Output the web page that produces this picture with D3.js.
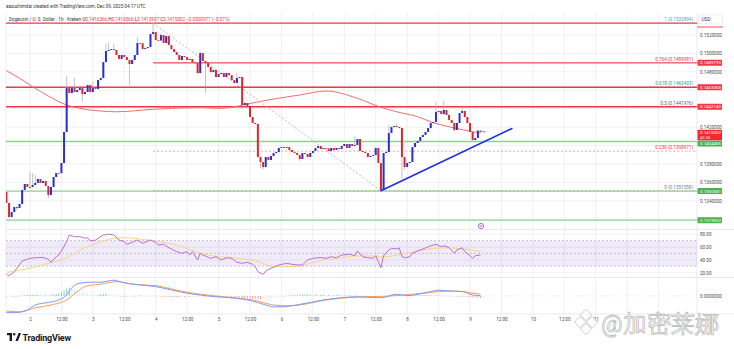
<!DOCTYPE html>
<html><head><meta charset="utf-8">
<script src="https://cdn.jsdelivr.net/npm/d3@7/dist/d3.min.js"></script>
<style>
html,body{margin:0;padding:0;background:#fff;overflow:hidden}
svg{display:block}
text{font-family:Roboto,"Liberation Sans",Arial,sans-serif}
</style></head><body>
<svg id="chart" width="734" height="349"></svg>
<script>
// ================= DATA =================
const firstOpen = 0.13496;
const closes = [
0.13377,0.13225,0.13279,0.13333,0.13322,0.13366,0.13518,0.13583,0.13550,0.13550,
0.13572,0.13594,0.13637,0.13594,0.13615,0.13561,0.13463,0.13550,0.13659,0.13702,
0.13700,0.13811,0.14147,0.14624,0.14570,0.14624,0.14581,0.14603,0.14624,0.14559,
0.14581,0.14657,0.14581,0.14624,0.14614,0.14711,0.14733,0.14906,0.15026,0.15037,
0.15047,0.15037,0.14983,0.14939,0.14983,0.14961,0.14928,0.14885,0.14928,0.14983,
0.15113,0.15110,0.15047,0.15058,0.15069,0.15210,0.15232,0.15145,0.15140,0.15199,
0.15113,0.15189,0.15091,0.15047,0.15015,0.14983,0.14928,0.14972,0.14961,0.14928,
0.14939,0.14906,0.14896,0.14787,0.15004,0.14917,0.14896,0.14852,0.14798,0.14820,
0.14744,0.14776,0.14787,0.14744,0.14787,0.14765,0.14711,0.14679,0.14733,0.14744,
0.14440,0.14462,0.14429,0.14310,0.14245,0.14234,0.13876,0.13822,0.13767,0.13876,
0.13843,0.13887,0.13919,0.13930,0.13974,0.13984,0.13974,0.13984,0.13952,0.13930,
0.13919,0.13897,0.13854,0.13919,0.13908,0.13876,0.13919,0.13941,0.13974,0.13995,
0.13963,0.13974,0.13970,0.13941,0.13974,0.13952,0.13974,0.13963,0.13995,0.14017,
0.13974,0.14017,0.13995,0.14006,0.14071,0.13941,0.13930,0.13919,0.13876,0.13887,
0.13897,0.13974,0.13811,0.13520,0.13919,0.13930,0.14136,0.14201,0.14212,0.14201,
0.14190,0.13876,0.13767,0.13811,0.13822,0.13984,0.14028,0.14050,0.14093,0.14115,
0.14147,0.14190,0.14245,0.14256,0.14364,0.14375,0.14342,0.14386,0.14332,0.14277,
0.14245,0.14169,0.14245,0.14353,0.14375,0.14310,0.14245,0.14147,0.14060,0.14082,
0.1416366,0.1415002
];
const wickHigh = [[9,0.13716],[10,0.13700],[11,0.13680],[23,0.14755],[26,0.14733],[33,0.14690],[38,0.15100],[39,0.15120],[41,0.15100],[50,0.15180],[56,0.1532894],[59,0.15220],[74,0.15020],[88,0.14790],[133,0.14100],[146,0.14223],[149,0.14240],[164,0.14476],[167,0.14487],[174,0.14410],[181,0.1416366]];
const wickLow = [[1,0.13214],[4,0.13300],[16,0.13430],[29,0.14476],[47,0.14657],[73,0.14770],[76,0.14573],[90,0.14400],[97,0.13756],[98,0.13740],[112,0.13830],[143,0.1351058],[151,0.13637],[152,0.13740],[171,0.14150],[179,0.14050],[181,0.1413937]];

// moving average on price: [candle index, value]
const maPts = [[0,0.14812],[5,0.14730],[10,0.14639],[16,0.14538],[23,0.14440],[28,0.14404],[36,0.14375],[42,0.14367],[48,0.14375],[56,0.14394],[63,0.14404],[74,0.14411],[81,0.14404],[86,0.14415],[92,0.14451],[102,0.14505],[112,0.14549],[122,0.14592],[134,0.14513],[143,0.14415],[149,0.14367],[157,0.14313],[163,0.14248],[170,0.14198],[178,0.14150],[181,0.14136]];

const resistanceLevels = [0.1489793, 0.1463368, 0.1442143];
const supportLevels = [0.1404456, 0.1350581, 0.1319053];
const fibRatios = [1, 0.764, 0.618, 0.5, 0.236, 0];
const fibPrices = [0.1532894, 0.1489981, 0.1463433, 0.1441976, 0.1393971, 0.1351058];
const fibAnchors = [56, 143];           // candle indices of swing high / swing low
const trendLine = [[143, 0.1351058], [193, 0.14185]];
const lastPrice = 0.1415002;
const countdown = "42:26";

const priceTicks = [0.152,0.150,0.148,0.146,0.144,0.142,0.140,0.138,0.136,0.134,0.132];

// RSI [index, value]
const rsiPts = [[0,17.3],[1,15.2],[3,21.4],[6,38.1],[9,42.3],[11,43.3],[14,43.6],[16,40.8],[17,36.1],[19,44.8],[20,47.5],[21,53.8],[23,68.3],[24,78.8],[26,76.1],[28,76.1],[30,73.6],[31,74.5],[32,69.4],[34,70.9],[37,78.8],[39,79.8],[41,78.8],[43,70.9],[45,68.3],[46,64.2],[48,67.3],[50,70.9],[52,65.8],[55,70.9],[57,67.3],[58,63.1],[60,64.2],[62,58.9],[63,56.9],[65,52.7],[67,50.2],[69,52.7],[70,47.5],[71,52.7],[73,39.7],[74,50.2],[75,47.5],[78,42.3],[80,44.8],[82,39.7],[84,43.3],[86,42.3],[88,36.1],[90,34.5],[92,36.1],[94,33],[95,29.2],[96,21.4],[98,17.3],[99,22.5],[101,26.7],[104,31.9],[107,34.5],[109,33],[111,31.9],[113,31.9],[115,39.7],[117,42.3],[120,43.6],[122,42.3],[124,44.8],[126,43.3],[128,47.5],[131,48.6],[133,46.4],[134,53.8],[136,44.8],[138,43.3],[140,42.3],[141,46.4],[143,27.7],[144,46.4],[146,55.3],[147,58],[149,56.9],[150,58.5],[151,44.8],[152,43.3],[154,44.8],[155,50.2],[157,53.8],[159,56.9],[162,62],[164,64.2],[166,60.5],[167,62],[169,58.9],[171,50.2],[172,55.3],[174,58.9],[175,52.7],[177,46.4],[178,42.3],[179,46.4],[181,47.5]];
const rsiMaPts = [[0,20.5],[10,27.7],[16,34.5],[23,43.3],[29,56.9],[36,68.3],[41,73.6],[46,74.5],[51,72.5],[58,68.3],[66,62],[74,50.2],[81,44.8],[89,42.3],[97,36.1],[102,29.2],[107,29.2],[112,30.8],[121,39.7],[128,43.3],[136,46.4],[144,44.8],[151,48.6],[159,55.3],[164,58],[169,58.9],[174,56.9],[181,52.7]];
const rsiTicks = [80, 60, 40, 20];
const rsiBand = [70, 50, 30];

// MACD (units of 1e-5)
const macdPts = [[0,-82],[4,-82],[8,-70],[11,-45],[16,-32],[20,-20],[23,5],[25,42],[28,64],[32,69],[36,69],[41,79],[44,69],[51,55],[57,47],[63,30],[69,14],[74,5],[80,-4],[86,-9],[94,-25],[99,-45],[102,-54],[105,-54],[112,-42],[121,-20],[134,-4],[143,-9],[149,9],[153,2],[162,22],[165,29],[169,25],[174,22],[178,5],[181,2]];
const signalPts = [[0,-75],[5,-79],[11,-59],[18,-42],[23,-20],[27,22],[31,52],[36,59],[42,72],[48,59],[57,52],[63,35],[71,14],[79,2],[86,-9],[94,-20],[102,-45],[107,-49],[112,-45],[121,-22],[134,-5],[143,-2],[149,2],[162,18],[169,25],[174,23],[178,14],[181,10]];
const histVals = [
-2,-1,-1,0,1,1,
3,4,5,5,6,6,7,
6,5,5,4,6,8,10,
14,18,28,38,40,36,32,28,
24,20,16,14,10,8,6,
6,8,10,12,10,8,6,
3,1,-1,-2,-2,-1,0,1,2,3,2,1,0,1,2,1,0,
-2,-3,-4,-4,-5,-5,-6,-6,-5,-5,-4,-4,-3,-3,-2,-1,-1,0,
-1,-2,-3,-3,-4,-4,-5,-6,-7,-8,-9,-10,
-11,-12,-12,-13,-13,-14,-14,-15,-16,-15,-13,-12,-10,-8,-6,
-4,-2,0,2,3,4,5,6,7,8,8,8,
8,7,7,6,6,6,5,5,4,4,4,4,3,3,3,3,2,2,2,1,
0,-1,-2,-2,-3,-3,-5,-6,-4,-2,
0,2,3,4,4,3,2,2,3,3,4,4,4,4,4,
4,4,3,3,3,2,2,1,1,0,
-1,-1,-2,-2,-3,-4,-5,-6,-7,-8,-8];

// ================= LAYOUT =================
const HOUR = 3600e3;
const t0 = Date.UTC(2025, 11, 1, 15);
const tAt = i => new Date(t0 + i * HOUR);
const L = 6, R = 697, mainT = 13, mainB = 229;
const rsiT = 230, rsiB = 277, macdT = 277.5, macdB = 314;

const x = d3.scaleTime().domain([new Date(Date.UTC(2025,11,2)), new Date(Date.UTC(2025,11,12))]).range([30, 658.6]);
const y = d3.scaleLinear().domain([0.138, 0.152]).range([164, 35]);
const yR = d3.scaleLinear().domain([20, 80]).range([272.6, 234.2]);
const yM = d3.scaleLinear().domain([0, 100]).range([296, 276]);

const svg = d3.select('#chart');
svg.append('rect').attr('width',734).attr('height',349).attr('fill','#fff');
const defs = svg.append('defs');
defs.append('clipPath').attr('id','clipMain').append('rect').attr('x',L).attr('y',mainT).attr('width',R-L).attr('height',mainB-mainT);
defs.append('clipPath').attr('id','clipLow').append('rect').attr('x',L).attr('y',rsiT).attr('width',R-L).attr('height',macdB-rsiT);

// ---- grid ----
const timeTicks = d3.range(0, 21).map(i => new Date(Date.UTC(2025,11,2) + i*12*HOUR));
const grid = svg.append('g');
grid.selectAll('line.v').data(timeTicks).join('line')
  .attr('x1', d=>x(d)).attr('x2', d=>x(d)).attr('y1', mainT).attr('y2', macdB)
  .attr('stroke', '#ececec').attr('stroke-width', 0.8);
grid.selectAll('line.h').data(priceTicks).join('line')
  .attr('x1', L).attr('x2', R).attr('y1', d=>y(d)).attr('y2', d=>y(d))
  .attr('stroke', '#ececec').attr('stroke-width', 0.8);
grid.selectAll('line.hr').data(rsiTicks).join('line')
  .attr('x1', L).attr('x2', R).attr('y1', d=>yR(d)).attr('y2', d=>yR(d))
  .attr('stroke', '#efefef').attr('stroke-width', 0.8);
[mainB + 0.5, rsiB + 0.5, macdB].forEach(v => {
  svg.append('line').attr('x1', L).attr('x2', 734).attr('y1', v).attr('y2', v).attr('stroke', '#e0e3eb').attr('stroke-width', 0.8);
});
svg.append('line').attr('x1', R).attr('x2', R).attr('y1', mainT).attr('y2', macdB).attr('stroke', '#e0e3eb').attr('stroke-width', 0.8);
svg.append('line').attr('x1', L).attr('x2', L).attr('y1', mainT).attr('y2', macdB).attr('stroke', '#e6e6e6').attr('stroke-width', 0.6);

// ---- main pane ----
const main = svg.append('g').attr('clip-path', 'url(#clipMain)');
const xFib = x(tAt(fibAnchors[0]));

const fibColors = ['#f23645', '#f7828a', '#f7828a', '#f7828a', '#f7a1a6', '#f7a1a6'];
main.selectAll('line.fib').data(fibPrices).join('line')
  .attr('x1', (d,i) => i === 0 ? L : xFib).attr('x2', R)
  .attr('y1', d=>y(d)).attr('y2', d=>y(d))
  .attr('stroke', (d,i)=>fibColors[i])
  .attr('stroke-width', (d,i)=> i===0 ? 1.4 : 1)
  .attr('stroke-dasharray', (d,i)=> i===0 || i===1 ? null : '2,2');

main.selectAll('line.res').data(resistanceLevels).join('line')
  .attr('x1', (d,i)=> i===0 ? xFib : L).attr('x2', R)
  .attr('y1', d=>y(d)).attr('y2', d=>y(d))
  .attr('stroke', (d,i)=> i===0 ? '#f46a72' : '#f23645').attr('stroke-width', 1.4);
main.selectAll('line.sup').data(supportLevels).join('line')
  .attr('x1', L).attr('x2', R)
  .attr('y1', d=>y(d)).attr('y2', d=>y(d))
  .attr('stroke', '#8fd093').attr('stroke-width', 1.4);

main.append('line')
  .attr('x1', x(tAt(fibAnchors[0]))).attr('y1', y(fibPrices[0]))
  .attr('x2', x(tAt(fibAnchors[1]))).attr('y2', y(fibPrices[5]))
  .attr('stroke', '#a8a8a8').attr('stroke-width', 0.8).attr('stroke-dasharray', '2,2');

const fibTextColors = ['#4ba3c3', '#f23645', '#22a28f', '#5d606b', '#f23645', '#787b86'];
svg.append('g').selectAll('text').data(fibPrices).join('text')
  .attr('x', 693).attr('y', d=>y(d) - 2)
  .attr('text-anchor', 'end').attr('font-size', 4.6)
  .attr('fill', (d,i)=>fibTextColors[i])
  .text((d,i)=> `${fibRatios[i]} (${d3.format('.7f')(d)})`);

main.append('path').datum(maPts)
  .attr('d', d3.line().x(d=>x(tAt(d[0]))).y(d=>y(d[1])).curve(d3.curveMonotoneX))
  .attr('fill', 'none').attr('stroke', '#f36c6c').attr('stroke-width', 1);

const hiMap = new Map(wickHigh), loMap = new Map(wickLow);
const candles = closes.map((c,i) => {
  const o = i === 0 ? firstOpen : closes[i-1];
  const h = Math.max(o, c, hiMap.has(i) ? hiMap.get(i) : -Infinity);
  const l = Math.min(o, c, loMap.has(i) ? loMap.get(i) : Infinity);
  return {t: tAt(i), o, h, l, c};
});
const cg = main.append('g');
cg.selectAll('line').data(candles).join('line')
  .attr('x1', d=>x(d.t)).attr('x2', d=>x(d.t))
  .attr('y1', d=>y(d.h)).attr('y2', d=>y(d.l))
  .attr('stroke', '#a9a9a9').attr('stroke-width', 0.7);
cg.selectAll('rect').data(candles).join('rect')
  .attr('x', d=>x(d.t) - 1).attr('width', 2)
  .attr('y', d=>y(Math.max(d.o,d.c)))
  .attr('height', d=>Math.max(0.8, Math.abs(y(d.o)-y(d.c))))
  .attr('fill', d=> d.c >= d.o ? '#2a2fd4' : '#e0262c');

main.append('line')
  .attr('x1', x(tAt(trendLine[0][0]))).attr('y1', y(trendLine[0][1]))
  .attr('x2', x(tAt(trendLine[1][0]))).attr('y2', y(trendLine[1][1]))
  .attr('stroke', '#1f2ee0').attr('stroke-width', 1.6).attr('stroke-linecap','round');

// ---- price axis label boxes (computed first, to hide covered tick labels) ----
const cpY = y(lastPrice);
const boxes = [];
resistanceLevels.forEach(p => boxes.push({p, color:'#f23645', cy:y(p)}));
supportLevels.forEach(p => {
  let cy = y(p);
  if (cy - 3 < cpY + 8.5 && cy + 3 > cpY - 2) cy = cpY + 8.5 + 3.2;
  boxes.push({p, color:'#4caf50', cy});
});
const occupied = boxes.map(b => [b.cy - 3, b.cy + 3]).concat([[cpY - 2, cpY + 8.5]]);
const visibleTicks = priceTicks.filter(t => {
  const a = y(t) - 2.4, b = y(t) + 2.4;
  return !occupied.some(([u,v]) => a < v && b > u);
});

const pa = svg.append('g').attr('transform', `translate(${R},0)`)
  .call(d3.axisRight(y).tickValues(visibleTicks).tickFormat(d3.format('.7f')).tickSize(0).tickPadding(3));
pa.select('.domain').remove();
pa.selectAll('text').attr('font-size', 4.6).attr('fill', '#4a4a4a').attr('font-family', 'Roboto, "Liberation Sans", Arial, sans-serif');

svg.append('rect').attr('x', 698.5).attr('y', 15).attr('width', 24).attr('height', 9).attr('fill','#fff').attr('stroke','#e3e3e3').attr('stroke-width',0.6).attr('rx',1);
svg.append('text').attr('x', 701.5).attr('y', 21.3).attr('font-size', 4.8).attr('fill','#333').text('USD');
svg.append('line').attr('x1', 697).attr('x2', 723).attr('y1', 27).attr('y2', 27).attr('stroke', '#f23645').attr('stroke-width', 0.9);

boxes.forEach(b => {
  const g = svg.append('g');
  g.append('rect').attr('x', 697.5).attr('y', b.cy - 3).attr('width', 24.5).attr('height', 6).attr('fill', b.color).attr('rx', 0.6);
  g.append('text').attr('x', 700).attr('y', b.cy + 1.6).attr('font-size', 4.4).attr('fill', '#fff').text(d3.format('.7f')(b.p));
});
svg.append('rect').attr('x', 697.5).attr('y', cpY - 2).attr('width', 24.5).attr('height', 10.5).attr('fill', '#f7262c').attr('rx', 0.6);
svg.append('text').attr('x', 700).attr('y', cpY + 2.6).attr('font-size', 4.4).attr('fill', '#fff').text(d3.format('.7f')(lastPrice));
svg.append('text').attr('x', 700).attr('y', cpY + 7.3).attr('font-size', 4.2).attr('fill', '#fff').text(countdown);
main.append('line').attr('x1', x(tAt(closes.length-1)) + 1.5).attr('x2', x(tAt(closes.length-1)) + 5).attr('y1', cpY).attr('y2', cpY)
  .attr('stroke', '#f23645').attr('stroke-width', 0.8);

// ---- RSI pane ----
const low = svg.append('g').attr('clip-path', 'url(#clipLow)');
low.append('rect').attr('x', L).attr('width', R-L).attr('y', yR(70)).attr('height', yR(30)-yR(70)).attr('fill', '#7e57c2').attr('fill-opacity', 0.12);
low.selectAll('line.band').data(rsiBand).join('line')
  .attr('x1', L).attr('x2', R).attr('y1', d=>yR(d)).attr('y2', d=>yR(d))
  .attr('stroke', '#a8a0b8').attr('stroke-width', 0.6).attr('stroke-dasharray', '2,2');
low.append('path').datum(rsiMaPts)
  .attr('d', d3.line().x(d=>x(tAt(d[0]))).y(d=>yR(d[1])).curve(d3.curveMonotoneX))
  .attr('fill','none').attr('stroke','#f9d48a').attr('stroke-width', 1);
low.append('path').datum(rsiPts)
  .attr('d', d3.line().x(d=>x(tAt(d[0]))).y(d=>yR(d[1])))
  .attr('fill','none').attr('stroke','#b462d0').attr('stroke-width', 0.9);
const ra = svg.append('g').attr('transform', `translate(${R},0)`)
  .call(d3.axisRight(yR).tickValues(rsiTicks).tickFormat(d3.format('.2f')).tickSize(0).tickPadding(3));
ra.select('.domain').remove();
ra.selectAll('text').attr('font-size', 4.6).attr('fill', '#4a4a4a');

// ---- MACD pane ----
low.append('line').attr('x1', L).attr('x2', R).attr('y1', yM(0)).attr('y2', yM(0))
  .attr('stroke', '#dcdcdc').attr('stroke-width', 0.6).attr('stroke-dasharray','1.5,1.5');
low.selectAll('rect.hist').data(histVals).join('rect')
  .attr('x', (d,i)=>x(tAt(i)) - 0.5).attr('width', 1)
  .attr('y', d=> d >= 0 ? yM(d) : yM(0))
  .attr('height', d=> Math.max(0.6, Math.abs(yM(d) - yM(0))))
  .attr('fill', (d,i)=> {
    const prev = i ? histVals[i-1] : d;
    if (d >= 0) return d >= prev ? '#26a69a' : '#b2dfdb';
    return d <= prev ? '#ff5252' : '#ffcdd2';
  }).attr('fill-opacity', 0.55);
low.append('path').datum(signalPts)
  .attr('d', d3.line().x(d=>x(tAt(d[0]))).y(d=>yM(d[1])).curve(d3.curveMonotoneX))
  .attr('fill','none').attr('stroke','#ff9a5c').attr('stroke-width', 1);
low.append('path').datum(macdPts)
  .attr('d', d3.line().x(d=>x(tAt(d[0]))).y(d=>yM(d[1])).curve(d3.curveMonotoneX))
  .attr('fill','none').attr('stroke','#7d98f5').attr('stroke-width', 1);
svg.append('text').attr('x', 700).attr('y', yM(0) + 1.6).attr('font-size', 4.6).attr('fill', '#4a4a4a').text('0.0000000');

// ---- time axis (labels under the watermark are hidden, as in the original) ----
const labelTicks = timeTicks.filter(d => x(d) < 612);
const ta = svg.append('g').attr('transform', `translate(0,${macdB})`)
  .call(d3.axisBottom(x).tickValues(labelTicks).tickSize(0).tickPadding(4)
    .tickFormat(d => d.getUTCHours() === 0 ? String(d.getUTCDate()) : '12:00'));
ta.select('.domain').remove();
ta.selectAll('text').attr('font-size', 4.6).attr('fill', '#4a4a4a');

svg.append('circle').attr('cx', 481).attr('cy', 226).attr('r', 2.6).attr('fill','#fff').attr('stroke', '#9c3fc9').attr('stroke-width', 0.8);
svg.append('circle').attr('cx', 481).attr('cy', 226).attr('r', 0.8).attr('fill', '#9c3fc9');

// ---- header ----
svg.append('text').attr('x', 6).attr('y', 8.2).attr('font-size', 4.6).attr('fill', '#333')
  .text('aazushimdai created with TradingView.com, Dec 09, 2025 04:17 UTC');
const hd = svg.append('text').attr('x', 9).attr('y', 20.6).attr('font-size', 4.6).attr('fill', '#333');
hd.append('tspan').text('Dogecoin / U. S. Dollar · 1h · Kraken  ');
[['O','0.1416366'],['H','0.1416366'],['L','0.1413937'],['C','0.1415002']].forEach(([k,v]) => {
  hd.append('tspan').attr('fill','#333').text(' ' + k);
  hd.append('tspan').attr('fill','#f23645').text(v);
});
hd.append('tspan').attr('fill','#f23645').text('  −0.0000977 (−0.07%)');

// ---- TradingView logo ----
const lg = svg.append('g').attr('fill', '#131722');
lg.append('rect').attr('x', 7).attr('y', 333).attr('width', 5).attr('height', 2.2);
lg.append('rect').attr('x', 9.6).attr('y', 333).attr('width', 2.4).attr('height', 8);
lg.append('circle').attr('cx', 14.2).attr('cy', 334.2).attr('r', 1.2);
lg.append('path').attr('d', 'M15.5 341 L18.6 333 L21 333 L17.9 341 Z');
svg.append('text').attr('x', 22.5).attr('y', 341.2).attr('font-size', 9).attr('font-weight', 700)
  .attr('fill', '#131722').attr('letter-spacing', -0.2).text('TradingView');

// ---- watermark ----
const wm = svg.append('g').attr('opacity', 0.9);
[[586,315],[580,322],[592,322],[586,329]].forEach(([cx,cy]) => {
  wm.append('rect').attr('x', cx-4).attr('y', cy-4).attr('width', 8).attr('height', 8)
    .attr('transform', `rotate(45 ${cx} ${cy})`).attr('fill', '#fff').attr('fill-opacity',0.6)
    .attr('stroke', '#c4c4c4').attr('stroke-width', 0.9);
});
wm.append('text').attr('x', 601).attr('y', 332).attr('font-size', 24)
  .attr('font-family', '"Noto Sans CJK SC", sans-serif')
  .attr('fill', '#ffffff').attr('fill-opacity', 0.75).attr('stroke', '#b9b9b9').attr('stroke-width', 0.8)
  .text('@加密莱娜');
</script>
</body></html>
